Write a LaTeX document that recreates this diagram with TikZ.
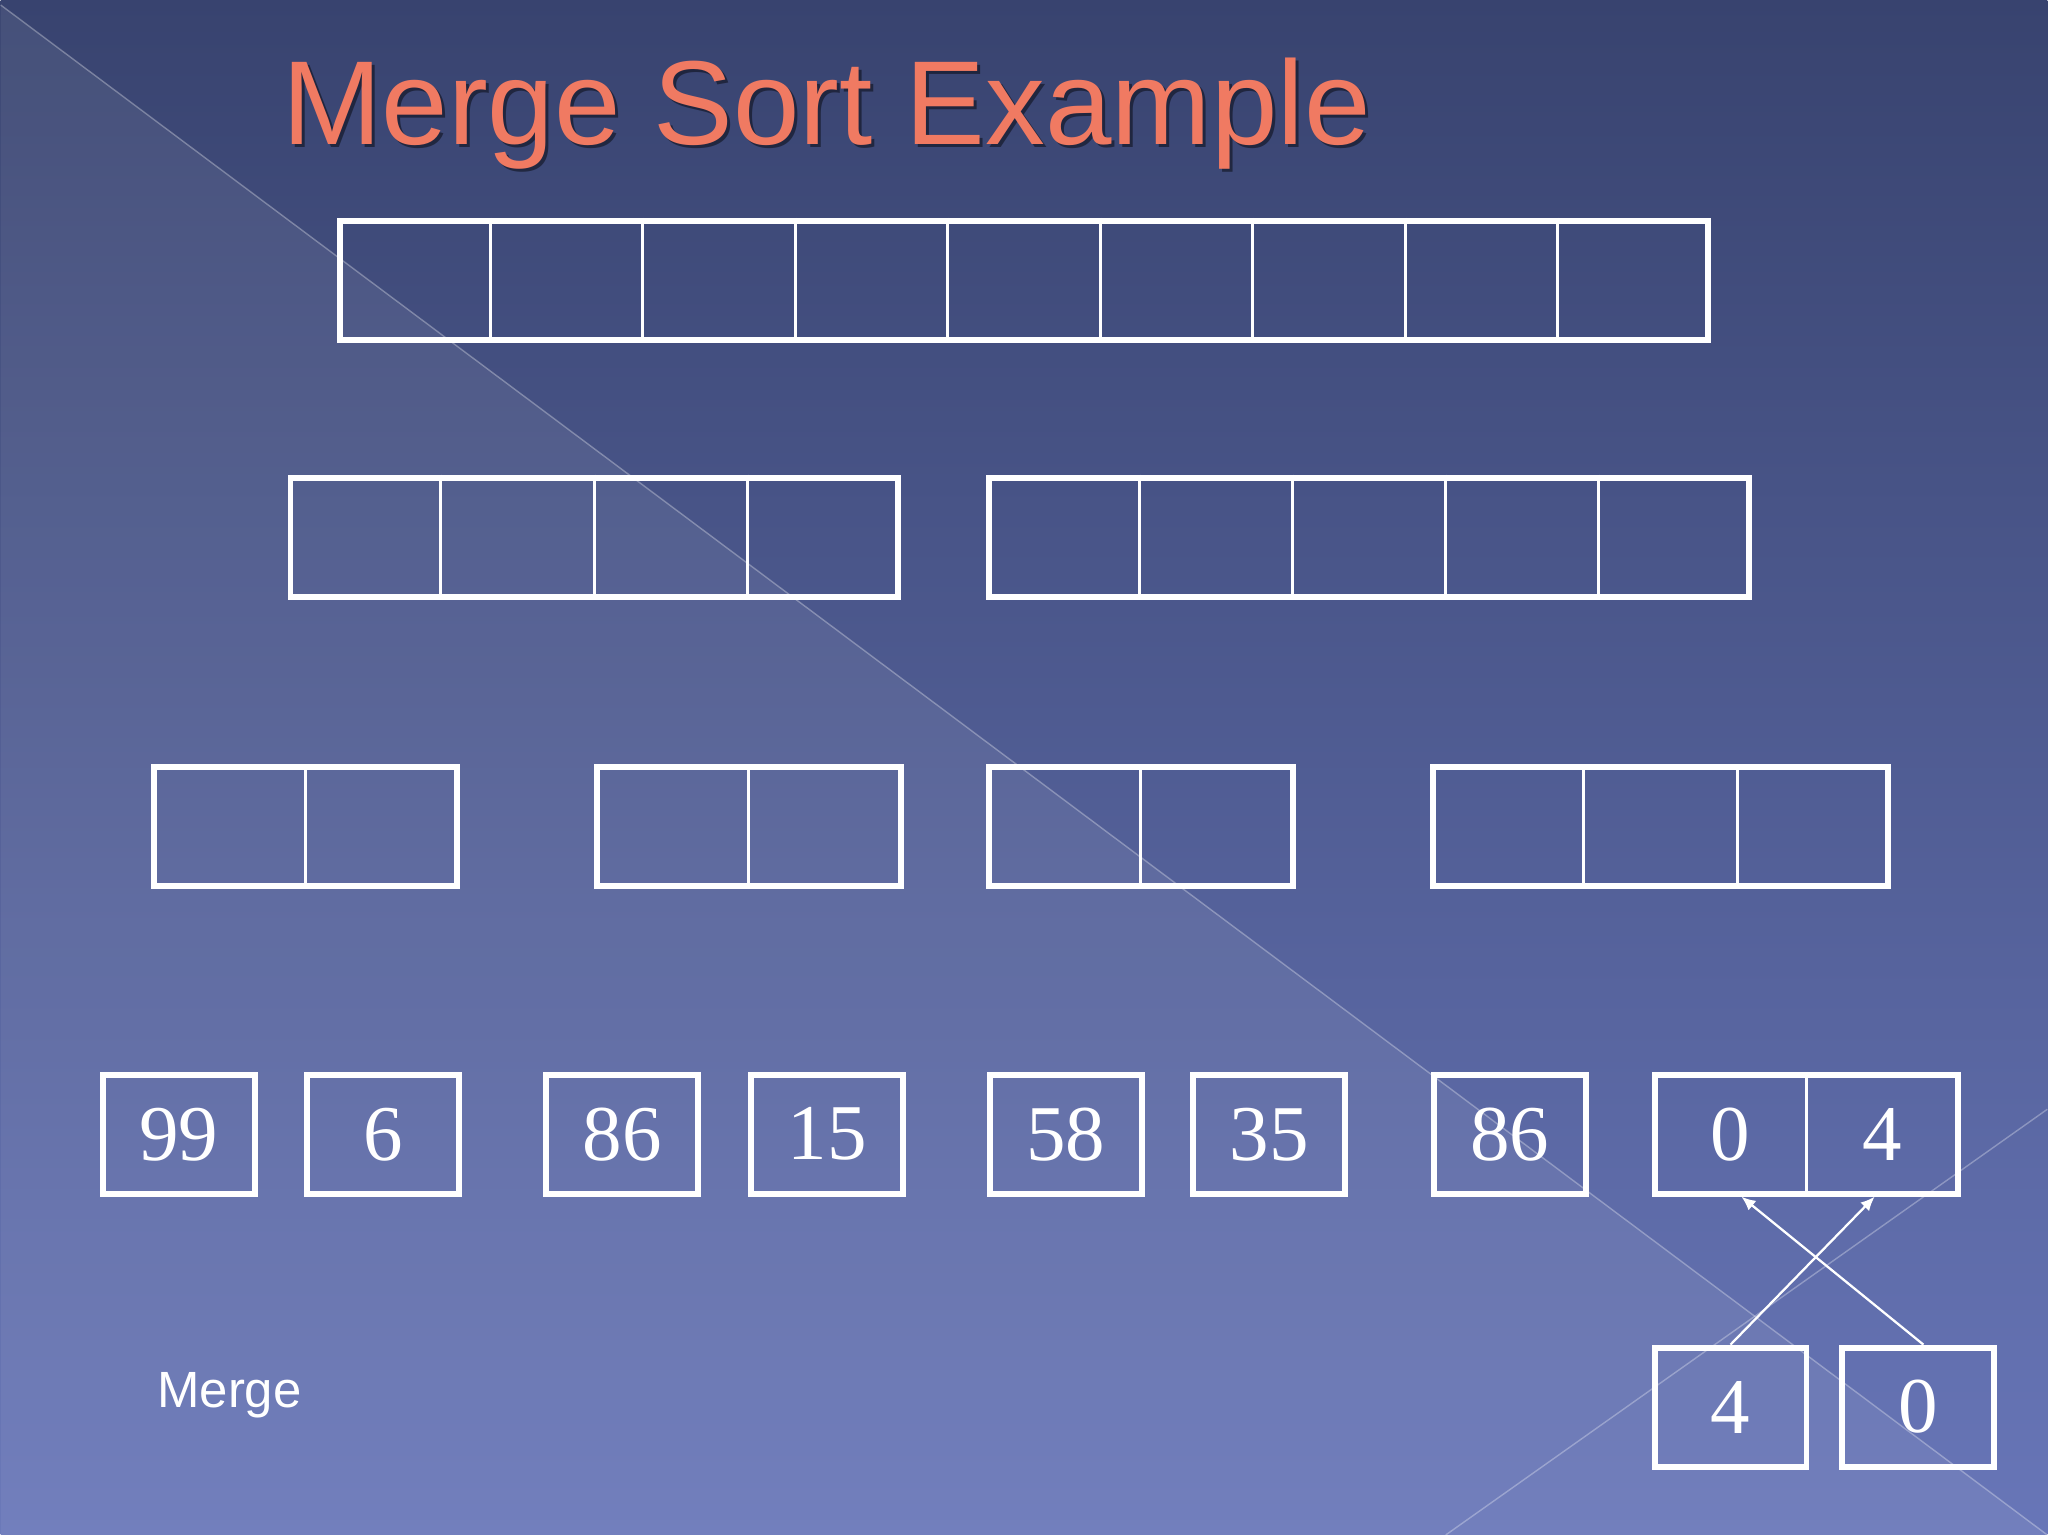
\documentclass[tikz,border=0pt]{standalone}
\usepackage{fontspec}
\setmainfont{Liberation Serif}
\newfontfamily\slidesans{Liberation Sans}
\usepackage{tikz}
\usetikzlibrary{calc}
\usetikzlibrary{arrows.meta}
\tikzset{>={Latex[length=4pt,width=3.5pt]}}
\definecolor{bgtop}{RGB}{56,67,111}
\definecolor{bgbot}{RGB}{104,118,184}
\definecolor{titlecol}{RGB}{240,122,98}
\tikzset{
  arr/.style={draw=white, line width=1.7pt, minimum height=1.19cm, inner sep=0pt},
  cell/.style={arr, minimum width=1.52cm, text=white, font=\fontsize{22.5}{27}\selectfont},
  num/.style={text=white, inner sep=0pt, font=\fontsize{22.5}{27}\selectfont},
  divider/.style={draw=white, line width=0.85pt},
  mergearrow/.style={->, draw=white, line width=0.65pt},
  bgline/.style={white, opacity=0.3, line width=0.4pt},
  slidetext/.style={anchor=base west, inner sep=0pt}
}

\begin{document}
\begin{tikzpicture}
    % background
    \fill[top color=bgtop, bottom color=bgbot] (0,0) rectangle (20.48,-15.36);
    \fill[white, opacity=0.07] (0,-0.05) -- (20.48,-15.36) -- (0,-15.36) -- cycle;
    \draw[bgline] (0,-0.05) -- (20.48,-15.36);
    \draw[bgline] (20.48,-11.10) -- (14.46,-15.36);

    % title
    \node[slidetext, font=\slidesans\fontsize{34}{40}\selectfont, text=black, opacity=0.45] (titleshadow) at (2.84,-1.48) {Merge Sort Example};
    \node[slidetext, font=\slidesans\fontsize{34}{40}\selectfont, text=titlecol] (title) at (2.81,-1.45) {Merge Sort Example};

    % level 1: 9 cells
    \node[arr, minimum width=13.68cm] (r1) at (10.24,-2.805) {};
    \foreach \i in {1,...,8}
        \draw[divider] ($(r1.north west)!\i/9!(r1.north east)$) -- ($(r1.south west)!\i/9!(r1.south east)$);

    % level 2: 4 + 5 cells
    \node[arr, minimum width=6.08cm] (l2a) at (5.94,-5.375) {};
    \node[arr, minimum width=7.60cm] (l2b) at (13.69,-5.375) {};
    \foreach \i in {1,...,3}
        \draw[divider] ($(l2a.north west)!\i/4!(l2a.north east)$) -- ($(l2a.south west)!\i/4!(l2a.south east)$);
    \foreach \i in {1,...,4}
        \draw[divider] ($(l2b.north west)!\i/5!(l2b.north east)$) -- ($(l2b.south west)!\i/5!(l2b.south east)$);

    % level 3: 2 + 2 + 2 + 3 cells
    \node[arr, minimum width=3.04cm] (l3a) at (3.05,-8.275) {};
    \node[arr, minimum width=3.04cm] (l3b) at (7.485,-8.275) {};
    \node[arr, minimum width=3.04cm] (l3c) at (11.41,-8.275) {};
    \node[arr, minimum width=4.56cm] (l3d) at (16.61,-8.275) {};
    \foreach \n in {l3a,l3b,l3c}
        \draw[divider] (\n.north) -- (\n.south);
    \foreach \i in {1,2}
        \draw[divider] ($(l3d.north west)!\i/3!(l3d.north east)$) -- ($(l3d.south west)!\i/3!(l3d.south east)$);

    % level 4: single values
    \node[cell] (v99) at (1.78,-11.35) {99};
    \node[cell] (v6) at (3.825,-11.35) {6};
    \node[cell] (v86) at (6.22,-11.35) {86};
    \node[cell] (v15) at (8.27,-11.35) {15};
    \node[cell] (v58) at (10.66,-11.35) {58};
    \node[cell] (v35) at (12.695,-11.35) {35};
    \node[cell] (v86b) at (15.10,-11.35) {86};
    % merged pair
    \node[arr, minimum width=3.04cm] (m04) at (18.07,-11.35) {};
    \draw[divider] (m04.north) -- (m04.south);
    \node[num] (m0) at ($(m04.center)+(-0.76,0)$) {0};
    \node[num] (m4) at ($(m04.center)+(0.76,0)$) {4};

    % level 5: halves being merged
    \node[cell] (b4) at (17.31,-14.08) {4};
    \node[cell] (b0) at (19.19,-14.08) {0};

    % merge arrows
    \draw[mergearrow] (b4.north) -- ($(m04.south west)!0.72!(m04.south east)$);
    \draw[mergearrow] ($(b0.north)+(0.05,0)$) -- ($(m04.south west)!0.29!(m04.south east)$);

    % caption
    \node[slidetext, font=\slidesans\fontsize{14.5}{17}\selectfont, text=white] (mergelabel) at (1.56,-14.08) {Merge};
\end{tikzpicture}
\end{document}
